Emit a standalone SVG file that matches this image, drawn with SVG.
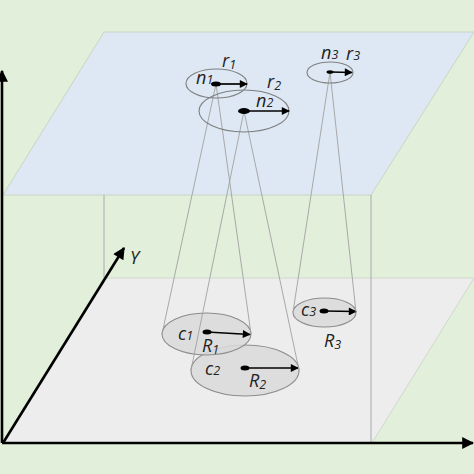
<svg xmlns="http://www.w3.org/2000/svg" width="474" height="474" viewBox="0 0 474 474">
<style>
.lbl{font-family:"Open Sans","Liberation Sans",sans-serif;font-style:italic;font-size:18px;fill:#222}
.sub{font-size:12.5px}
.cone{stroke:#a0a0a0;stroke-width:0.9;fill:none}
.top{fill:none;stroke:#7f7f7f;stroke-width:1.1}
.bot{fill:#d9d9d9;fill-opacity:0.85;stroke:#8c8c8c;stroke-width:1.1}
.vec{stroke:#000;stroke-width:1.7;marker-end:url(#ah)}
.axis{stroke:#000;stroke-width:2.6;fill:none}
</style>
<defs>
<marker id="ah" viewBox="0 0 10 10" refX="9" refY="5" markerWidth="12" markerHeight="8" orient="auto" markerUnits="userSpaceOnUse"><path d="M0,0L10,5L0,10z" fill="#000"/></marker>
<marker id="axh" viewBox="0 0 10 10" refX="9" refY="5" markerWidth="15" markerHeight="12" orient="auto" markerUnits="userSpaceOnUse"><path d="M0,0L10,5L0,10z" fill="#000"/></marker>
</defs>
<rect width="474" height="474" fill="#e2efda"/>
<g id="planes">
<polygon points="104,32 474,32 371,195 3,195" fill="#dde8f4" stroke="#c9d6c4" stroke-width="1"/>
<line x1="104" y1="195" x2="104" y2="278" stroke="#aaaaaa" stroke-width="1"/>
<polygon points="104,278 474,278 372,443 3,443" fill="#ededed" stroke="#d0d8cc" stroke-width="1"/>
<line x1="371" y1="195" x2="371" y2="443" stroke="#aaaaaa" stroke-width="1"/>
</g>
<g id="axes">
<line class="axis" x1="2" y1="443" x2="2" y2="71" stroke-width="3" marker-end="url(#axh)"/>
<line class="axis" x1="2" y1="443" x2="473" y2="443" marker-end="url(#axh)"/>
<line class="axis" x1="3" y1="443" x2="124" y2="248" stroke-width="2" marker-end="url(#axh)"/>
<text class="lbl" x="130" y="264">Y</text>
</g>
<g id="c2">
<ellipse class="bot" cx="245" cy="370.5" rx="54" ry="25.5"/>
<ellipse cx="245" cy="368" rx="4.5" ry="2.5" fill="#000"/>
<line class="vec" x1="245" y1="368" x2="298" y2="368"/>
<text class="lbl" x="205" y="375">c<tspan class="sub">2</tspan></text>
<text class="lbl" x="249" y="387">R<tspan class="sub" dy="2">2</tspan></text>
</g>
<g id="c1">
<ellipse class="bot" cx="206.5" cy="334" rx="44.5" ry="21"/>
<ellipse cx="207" cy="332" rx="4.5" ry="2.5" fill="#000"/>
<line class="vec" x1="207" y1="332" x2="250" y2="334.5"/>
<text class="lbl" x="178" y="340">c<tspan class="sub">1</tspan></text>
<text class="lbl" x="202" y="352">R<tspan class="sub" dy="2">1</tspan></text>
</g>
<g id="c3">
<ellipse class="bot" cx="324.5" cy="312.5" rx="31.5" ry="14.5"/>
<ellipse cx="324" cy="311" rx="4.5" ry="2.5" fill="#000"/>
<line class="vec" x1="324" y1="311" x2="356" y2="311.5"/>
<text class="lbl" x="301" y="316" font-size="16">c<tspan class="sub">3</tspan></text>
<text class="lbl" x="324" y="347">R<tspan class="sub" dy="2">3</tspan></text>
</g>
<g id="connectors">
<line class="cone" x1="216" y1="84" x2="162" y2="334"/>
<line class="cone" x1="216" y1="84" x2="251" y2="334"/>
<line class="cone" x1="244" y1="111" x2="191" y2="370"/>
<line class="cone" x1="244" y1="111" x2="299" y2="370"/>
<line class="cone" x1="330" y1="72" x2="293" y2="312"/>
<line class="cone" x1="330" y1="72" x2="356" y2="312"/>
</g>
<g id="n1">
<ellipse class="top" cx="216.5" cy="83.5" rx="30.5" ry="14.5"/>
<ellipse cx="216" cy="84" rx="5" ry="2.5" fill="#000"/>
<line class="vec" x1="216" y1="84" x2="247" y2="84"/>
<text class="lbl" x="196" y="84">n<tspan class="sub">1</tspan></text>
<text class="lbl" x="222" y="67">r<tspan class="sub" dy="2">1</tspan></text>
</g>
<g id="n2">
<ellipse class="top" cx="244" cy="111" rx="45" ry="21"/>
<ellipse cx="244" cy="111" rx="6" ry="3" fill="#000"/>
<line class="vec" x1="244" y1="111" x2="289" y2="111"/>
<text class="lbl" x="256" y="107">n<tspan class="sub">2</tspan></text>
<text class="lbl" x="267" y="88">r<tspan class="sub" dy="2">2</tspan></text>
</g>
<g id="n3">
<ellipse class="top" cx="330" cy="72.5" rx="23" ry="10.5"/>
<ellipse cx="330" cy="72" rx="3.5" ry="1.8" fill="#000"/>
<line class="vec" x1="330" y1="72" x2="352" y2="72.5"/>
<text class="lbl" x="321" y="59">n<tspan class="sub">3</tspan></text>
<text class="lbl" x="346" y="60">r<tspan class="sub">3</tspan></text>
</g>
</svg>
